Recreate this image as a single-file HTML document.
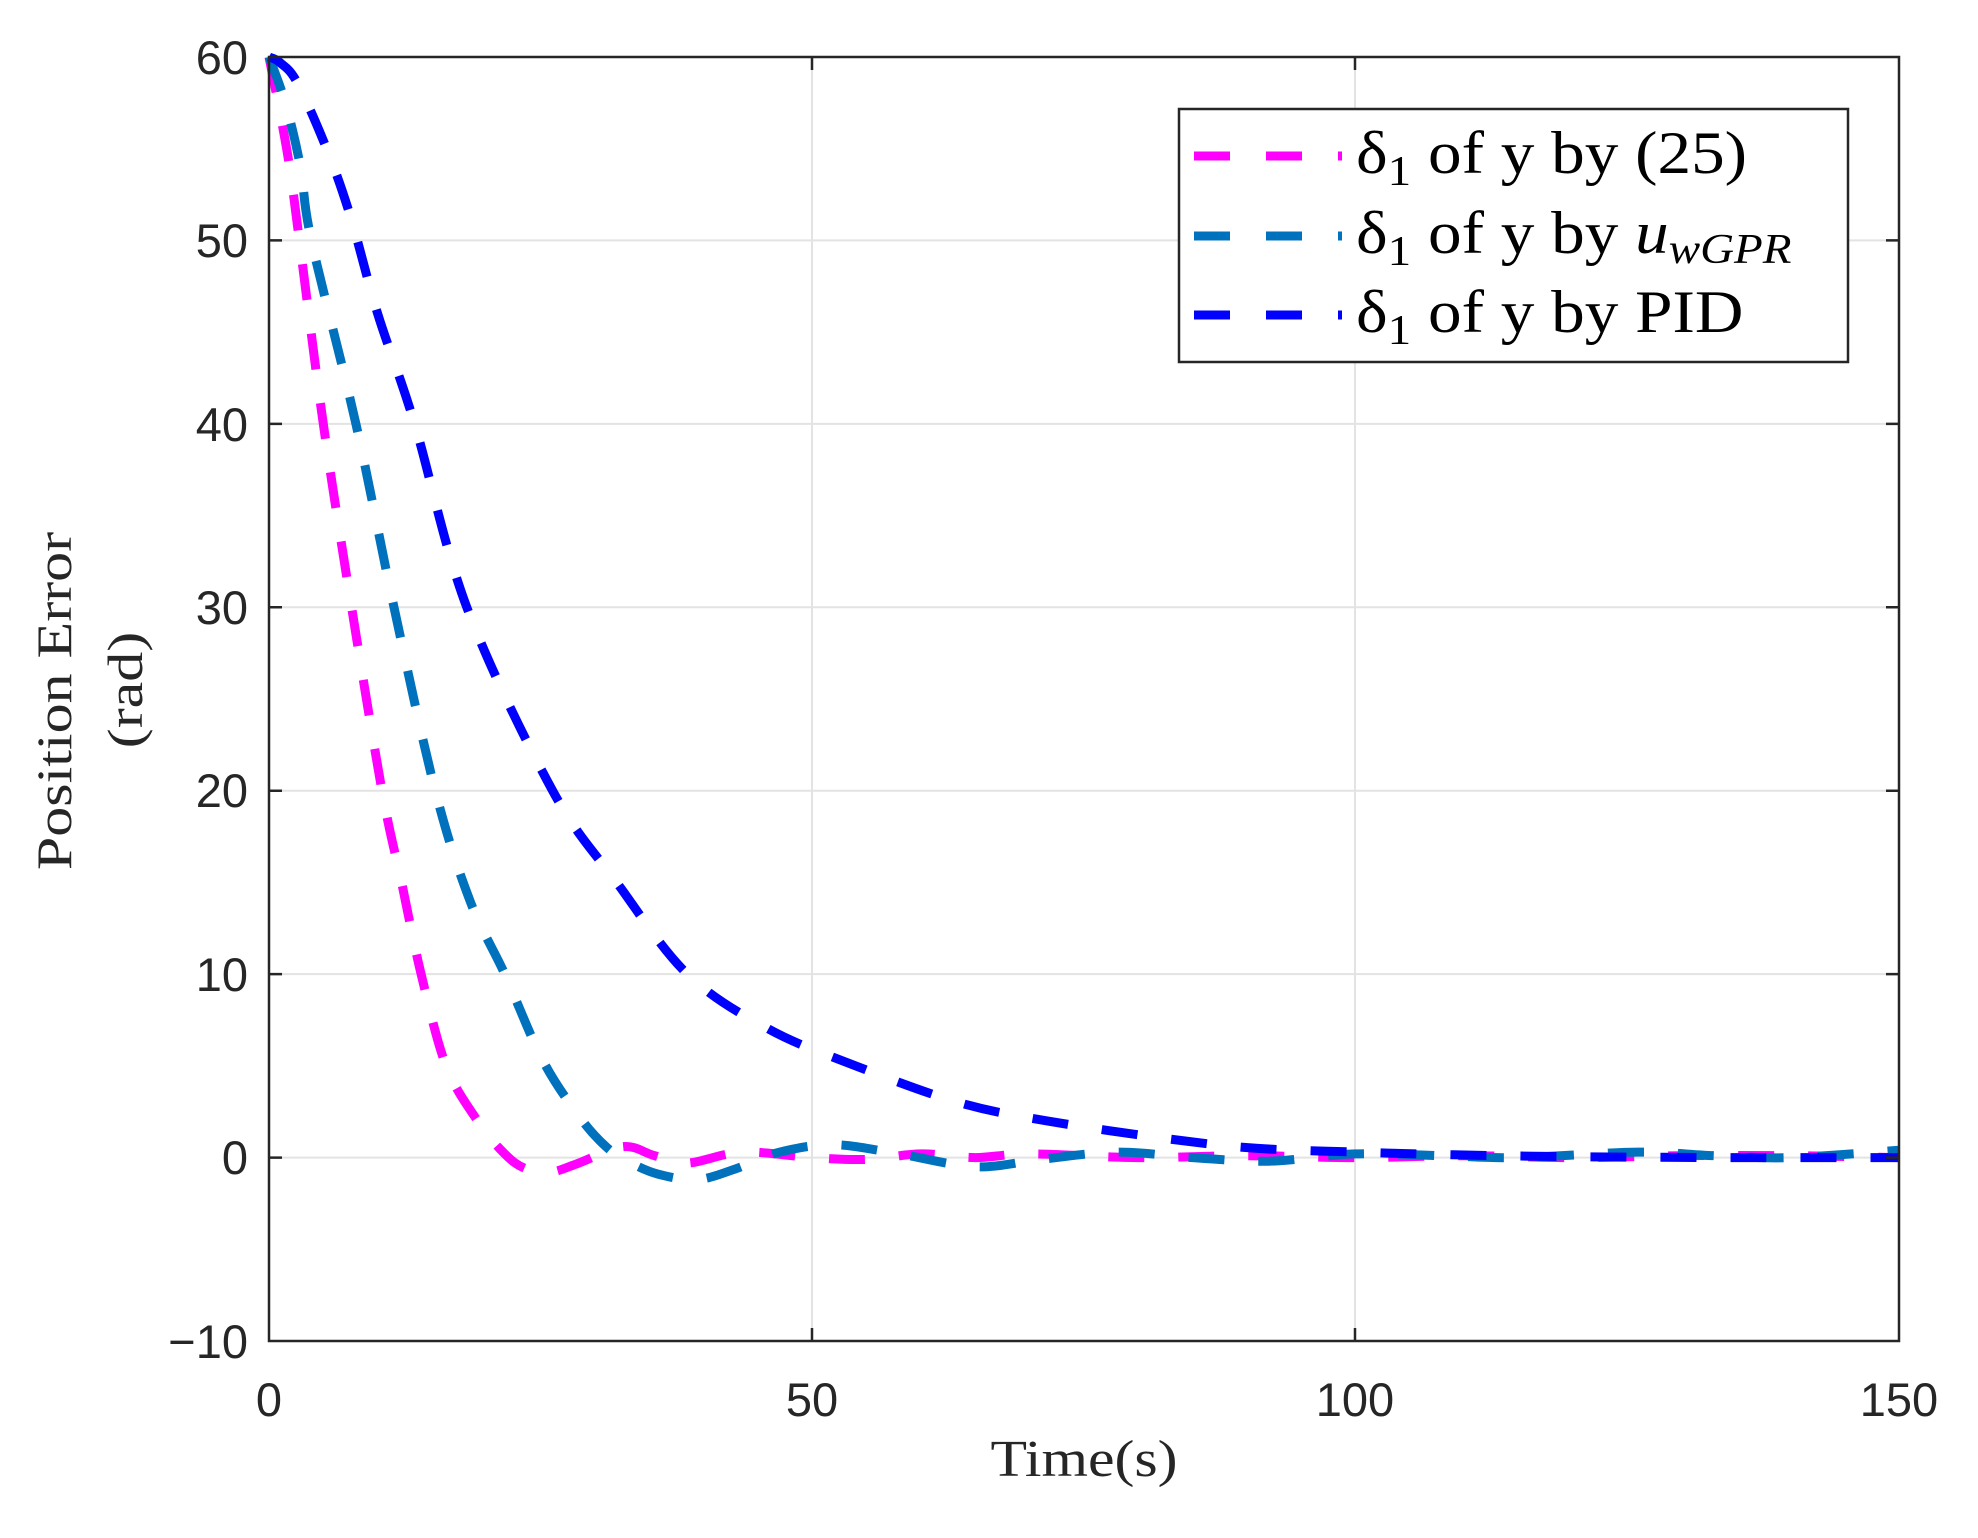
<!DOCTYPE html>
<html><head><meta charset="utf-8"><style>
html,body{margin:0;padding:0;background:#fff;}
svg text{fill:#262626;}
</style></head><body>
<svg id="s" width="1978" height="1533" viewBox="0 0 1978 1533" xmlns="http://www.w3.org/2000/svg">
<rect width="1978" height="1533" fill="#fff"/>
<g stroke="#e3e3e3" stroke-width="2">
<line x1="812" y1="57" x2="812" y2="1341"/><line x1="1355" y1="57" x2="1355" y2="1341"/>
<line x1="269" y1="240.4" x2="1899" y2="240.4"/><line x1="269" y1="423.9" x2="1899" y2="423.9"/>
<line x1="269" y1="607.3" x2="1899" y2="607.3"/><line x1="269" y1="790.7" x2="1899" y2="790.7"/>
<line x1="269" y1="974.1" x2="1899" y2="974.1"/><line x1="269" y1="1157.6" x2="1899" y2="1157.6"/>
</g>
<g id="curves" fill="none" stroke-width="9" stroke-dasharray="36 34"></g>
<g stroke="#262626" stroke-width="2.5" fill="none">
<rect x="269" y="57" width="1630" height="1284"/>
<path d="M812 1341v-13M1355 1341v-13M812 57v13M1355 57v13
M269 240.4h13M269 423.9h13M269 607.3h13M269 790.7h13M269 974.1h13M269 1157.6h13
M1899 240.4h-13M1899 423.9h-13M1899 607.3h-13M1899 790.7h-13M1899 974.1h-13M1899 1157.6h-13"/>
</g>
<g font-family="Liberation Sans, sans-serif" font-size="47" text-anchor="end">
<text x="248" y="74">60</text><text x="248" y="257">50</text><text x="248" y="441">40</text>
<text x="248" y="624">30</text><text x="248" y="807">20</text><text x="248" y="991">10</text>
<text x="248" y="1174">0</text><text x="248" y="1358">−10</text>
</g>
<g font-family="Liberation Sans, sans-serif" font-size="47" text-anchor="middle">
<text x="269" y="1416">0</text><text x="812" y="1416">50</text><text x="1355" y="1416">100</text><text x="1899" y="1416">150</text>
</g>
<text transform="translate(1084,1476) scale(1.15,1)" font-family="Liberation Serif, serif" font-size="52" text-anchor="middle">Time(s)</text>
<text transform="translate(71,701) rotate(-90) scale(1.2,1)" font-family="Liberation Serif, serif" font-size="50" text-anchor="middle">Position Error</text>
<text transform="translate(142,690) rotate(-90) scale(1.2,1)" font-family="Liberation Serif, serif" font-size="50" text-anchor="middle">(rad)</text>
<rect x="1179" y="109" width="669" height="253" fill="#fff" stroke="#262626" stroke-width="2.5"/>
<g stroke-width="9" stroke-dasharray="36 36">
<line x1="1194" y1="156" x2="1342" y2="156" stroke="#ff00ff"/>
<line x1="1194" y1="236" x2="1342" y2="236" stroke="#0072bd"/>
<line x1="1194" y1="315" x2="1342" y2="315" stroke="#0000ff"/>
</g>
<g font-family="Liberation Serif, serif" font-size="60">
<text transform="translate(1356,173) scale(1.12,1)" style="fill:#000">δ<tspan font-size="42" dy="12">1</tspan><tspan dy="-12"> of y by (25)</tspan></text>
<text transform="translate(1356,253) scale(1.12,1)" style="fill:#000">δ<tspan font-size="42" dy="12">1</tspan><tspan dy="-12"> of y by </tspan><tspan font-style="italic">u</tspan><tspan font-style="italic" font-size="42" dy="10">wGPR</tspan></text>
<text transform="translate(1356,332) scale(1.12,1)" style="fill:#000">δ<tspan font-size="42" dy="12">1</tspan><tspan dy="-12"> of y by PID</tspan></text>
</g>
</svg>
<script>
function X(t){return 269+t*10.8667;}
function Y(v){return 57+(60-v)*18.343;}
function path(pts){
  var p=pts.map(function(a){return [X(a[0]),Y(a[1])];});
  var d="M"+p[0][0].toFixed(1)+" "+p[0][1].toFixed(1);
  for(var i=0;i<p.length-1;i++){
    var p0=p[i>0?i-1:i],p1=p[i],p2=p[i+1],p3=p[i+2<p.length?i+2:i+1];
    var c1=[p1[0]+(p2[0]-p0[0])/6,p1[1]+(p2[1]-p0[1])/6];
    var c2=[p2[0]-(p3[0]-p1[0])/6,p2[1]-(p3[1]-p1[1])/6];
    d+=" C"+c1[0].toFixed(1)+" "+c1[1].toFixed(1)+" "+c2[0].toFixed(1)+" "+c2[1].toFixed(1)+" "+p2[0].toFixed(1)+" "+p2[1].toFixed(1);
  }
  return d;
}
var mag=[[0,60],[1,57],[1.9,54],[2.8,50],[5,40],[7.6,30],[10.4,20],[12.2,15],[14,10],[16.3,5],[19.2,2],[21.7,0.2],[23.6,-0.6],[25.9,-0.8],[28.5,-0.3],[32.6,0.6],[35.5,0.1],[38.5,-0.3],[43.6,0.3],[50,0],[55,-0.1],[60,0.2],[65,0],[70,0.2],[80,0],[90,0.1],[100,0],[110,0.1],[120,0],[130,0.1],[140,0.1],[150,0]];
var teal=[[0,60],[1.5,57.5],[2.9,54],[3.9,50],[8,40],[11.5,30],[15.3,20],[18.5,14],[21.7,10],[25.2,5.3],[28.6,2.2],[31,0.6],[33,-0.2],[35.8,-0.9],[39.4,-1.2],[43,-0.6],[47,0.3],[52,0.7],[58,0.2],[65,-0.5],[71,-0.1],[78,0.3],[85,0],[92,-0.2],[100,0.2],[108,0.1],[115,0],[126,0.3],[133,0.1],[140,0],[150,0.4]];
var blue=[[0,60],[1,59.7],[2.6,58.6],[5.3,55],[7.5,51.3],[10,46],[13.4,40],[18.2,30],[26.1,20],[32,15],[38.5,10],[46,7],[54,5],[63.5,3],[71.6,2],[83,1],[91,0.5],[100,0.3],[109,0.15],[120,0.05],[135,0],[150,0]];
var g=document.getElementById("curves");
[[mag,"#ff00ff"],[teal,"#0072bd"],[blue,"#0000ff"]].forEach(function(s){
  var e=document.createElementNS("http://www.w3.org/2000/svg","path");
  e.setAttribute("d",path(s[0]));e.setAttribute("stroke",s[1]);g.appendChild(e);
});
</script>
</body></html>
